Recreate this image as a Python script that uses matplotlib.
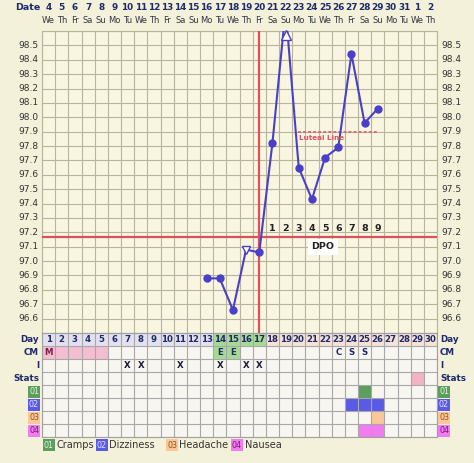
import matplotlib
matplotlib.use("Agg")
import matplotlib.pyplot as plt
from matplotlib.patches import Rectangle

# ---------------- data ----------------
dates = [4, 5, 6, 7, 8, 9, 10, 11, 12, 13, 14, 15, 16, 17, 18, 19, 20, 21, 22, 23,
         24, 25, 26, 27, 28, 29, 30, 31, 1, 2]
weekdays = ["We", "Th", "Fr", "Sa", "Su", "Mo", "Tu", "We", "Th", "Fr", "Sa", "Su", "Mo", "Tu",
            "We", "Th", "Fr", "Sa", "Su", "Mo", "Tu", "We", "Th", "Fr", "Sa", "Su", "Mo", "Tu",
            "We", "Th"]
temp_days = [13, 14, 15, 16, 17, 18, 19, 20, 21, 22, 23, 24, 25, 26]
temps = [96.88, 96.88, 96.66, 97.08, 97.06, 97.82, 98.75, 97.65, 97.43, 97.72, 97.79,
         98.44, 97.96, 98.06]
open_down_days = [16]
off_chart_days = [19]
coverline = 97.17
ovulation_day = 17
luteal_value = 97.90
luteal_start, luteal_end = 19.94, 26.0
dpo_days = [18, 19, 20, 21, 22, 23, 24, 25, 26]
dpo_labels = ["1", "2", "3", "4", "5", "6", "7", "8", "9"]
temp_ticks = [96.6, 96.7, 96.8, 96.9, 97.0, 97.1, 97.2, 97.3, 97.4, 97.5, 97.6,
              97.7, 97.8, 97.9, 98.0, 98.1, 98.2, 98.3, 98.4, 98.5]
cm_pink_days = [1, 2, 3, 4, 5]
cm_green_days = [14, 15]
cm_marks = {1: "M", 14: "E", 15: "E", 23: "C", 24: "S", 25: "S"}
intercourse_days = [7, 8, 11, 14, 16, 17]
stats_pink_days = [29]
symptom_days = {0: [25], 1: [24, 25, 26], 2: [26], 3: [25, 26]}
symptom_names = ["Cramps", "Dizziness", "Headache", "Nausea"]
symptom_codes = ["01", "02", "03", "04"]

# ---------------- style ----------------
W, H = 474, 463
BG = "#f4f1da"
PLOT_BG = "#f8f5e1"
GRID = "#b9b49c"
NAVY = "#1f2a6b"
LINE = "#4a40c8"
RED = "#d9545a"
sym_box = ["#5c9e5c", "#5a5ae6", "#f8c898", "#f07cf0"]
sym_txt = ["#dff2df", "#e0e0ff", "#a0501a", "#7a1a7a"]

fig = plt.figure(figsize=(W / 100, H / 100), dpi=100)
fig.patch.set_facecolor(BG)


def fx(x):
    return x / W


def fy(y):
    return 1 - y / H


L, R = 42, 437
T_TOP, T_BOT = 31, 333
TB_BOT = 437

# temperature axes
ax = fig.add_axes([fx(L), fy(T_BOT), fx(R - L), (T_BOT - T_TOP) / H])
ax.set_facecolor(PLOT_BG)
ax.set_xlim(0.5, 30.5)
ax.set_ylim(96.5, 98.6)
for k in range(31):
    ax.axvline(0.5 + k, color=GRID, lw=0.8, zorder=1)
for k in range(22):
    ax.axhline(96.5 + 0.1 * k, color=GRID, lw=0.8, zorder=1)
ax.set_xticks([])
ax.set_yticks([])
for s in ax.spines.values():
    s.set_color(GRID)
    s.set_linewidth(0.8)

ax.axhline(coverline, color=RED, lw=1.6, zorder=3)
ax.axvline(ovulation_day, color=RED, lw=1.6, zorder=3)

ax.plot(temp_days, temps, color=LINE, lw=1.5, zorder=4)
for d, t in zip(temp_days, temps):
    if d in open_down_days:
        ax.plot(d, t, marker="v", ms=6, mfc="white", mec=LINE, mew=1.0, zorder=5)
    elif d in off_chart_days:
        ax.plot(d, 98.6 - 0.03, marker="^", ms=6.5, mfc="white", mec=LINE, mew=1.0,
                zorder=6, clip_on=False)
    else:
        ax.plot(d, t, marker="o", ms=5, color=LINE, zorder=5)

ax.plot([luteal_start, luteal_end], [luteal_value, luteal_value], color="#e06070",
        lw=1.3, ls=(0, (1.6, 1.2)), zorder=3)
ax.text(luteal_start + 0.05, luteal_value - 0.045, "Luteal Line", fontsize=5.2,
        color="#e05565", fontweight="bold", ha="left", va="center", zorder=4)

for d, lab in zip(dpo_days, dpo_labels):
    ax.text(d, 97.225, lab, fontsize=6.8, fontweight="bold", color="#222222",
            ha="center", va="center", zorder=6)
ax.text(21.83, 97.10, "DPO", fontsize=6.8, fontweight="bold", color="#222222",
        ha="center", va="center", zorder=6,
        bbox=dict(boxstyle="square,pad=0.35", fc="white", ec="none"))

# temperature tick labels
for t in temp_ticks:
    y = fy(T_TOP + (98.6 - t) / 0.1 * ((T_BOT - T_TOP) / 21))
    fig.text(fx(38.5), y, f"{t:.1f}", fontsize=6.5, color="#333333", ha="right", va="center")
    fig.text(fx(441), y, f"{t:.1f}", fontsize=6.5, color="#333333", ha="left", va="center")

# header dates
cw = (R - L) / 30
fig.text(fx(28), fy(8), "Date", fontsize=6.8, fontweight="bold", color=NAVY,
         ha="center", va="center")
for i, (d, w) in enumerate(zip(dates, weekdays)):
    x = fx(L + cw * (i + 0.5))
    fig.text(x, fy(7), str(d), fontsize=6.4, fontweight="bold", color=NAVY,
             ha="center", va="center")
    fig.text(x, fy(20.5), w, fontsize=6.0, color="#333344", ha="center", va="center")

# table axes
tb = fig.add_axes([fx(L), fy(TB_BOT), fx(R - L), (TB_BOT - T_BOT) / H])
tb.set_xlim(0.5, 30.5)
tb.set_ylim(8, 0)
tb.set_xticks([])
tb.set_yticks([])
tb.set_facecolor("#f7f6f0")
for s in tb.spines.values():
    s.set_color("#a0a0a0")
    s.set_linewidth(0.8)


def cell(day, row, color):
    tb.add_patch(Rectangle((day - 0.5, row), 1, 1, fc=color, ec="none", zorder=1))


for d in range(1, 31):
    if d <= 13:
        c = "#e3e1f0"
    elif d <= 17:
        c = "#a6da92"
    else:
        c = "#f6e3d6"
    cell(d, 0, c)
    tb.text(d, 0.5, str(d), fontsize=6.2, fontweight="bold", color=NAVY,
            ha="center", va="center", zorder=3)
for d in cm_pink_days:
    cell(d, 1, "#f5bdd0")
for d in cm_green_days:
    cell(d, 1, "#a6da92")
for d, m in cm_marks.items():
    tb.text(d, 1.5, m, fontsize=6.2, fontweight="bold",
            color="#7a2050" if m == "M" else NAVY, ha="center", va="center", zorder=3)
for d in intercourse_days:
    tb.text(d, 2.5, "X", fontsize=6.2, fontweight="bold", color="#1a1a3a",
            ha="center", va="center", zorder=3)
for d in stats_pink_days:
    cell(d, 3, "#f0b4c4")
for r, ds in symptom_days.items():
    for d in ds:
        cell(d, 4 + r, sym_box[r])

for k in range(31):
    tb.axvline(0.5 + k, color="#a8a8a8", lw=0.8, zorder=2)
for k in range(9):
    tb.axhline(k, color="#a8a8a8", lw=0.8, zorder=2)

# row labels
row_h = (TB_BOT - T_BOT) / 8
labels = ["Day", "CM", "I", "Stats"]
for r, lab in enumerate(labels):
    y = fy(T_BOT + row_h * (r + 0.5))
    fig.text(fx(39), y, lab, fontsize=6.3, fontweight="bold", color=NAVY,
             ha="right", va="center")
    fig.text(fx(440), y, lab, fontsize=6.3, fontweight="bold", color=NAVY,
             ha="left", va="center")
for r in range(4):
    yc = T_BOT + row_h * (4 + r + 0.5)
    for x0 in (28, 438):
        fig.patches.append(Rectangle((fx(x0), fy(yc + 6)), fx(12), 12 / H, fc=sym_box[r],
                                     ec="none", transform=fig.transFigure, figure=fig))
        fig.text(fx(x0 + 6), fy(yc), symptom_codes[r], fontsize=5.8, color=sym_txt[r],
                 ha="center", va="center")

# legend
leg_x = [43, 96, 166, 231]
for r in range(4):
    x0 = leg_x[r]
    yc = 445
    fig.patches.append(Rectangle((fx(x0), fy(yc + 6)), fx(12), 12 / H, fc=sym_box[r],
                                 ec="none", transform=fig.transFigure, figure=fig))
    fig.text(fx(x0 + 6), fy(yc), symptom_codes[r], fontsize=5.8, color=sym_txt[r],
             ha="center", va="center")
    fig.text(fx(x0 + 13.5), fy(yc), symptom_names[r], fontsize=7, color="#333333",
             ha="left", va="center")

fig.savefig("out.png", dpi=100, facecolor=BG)
